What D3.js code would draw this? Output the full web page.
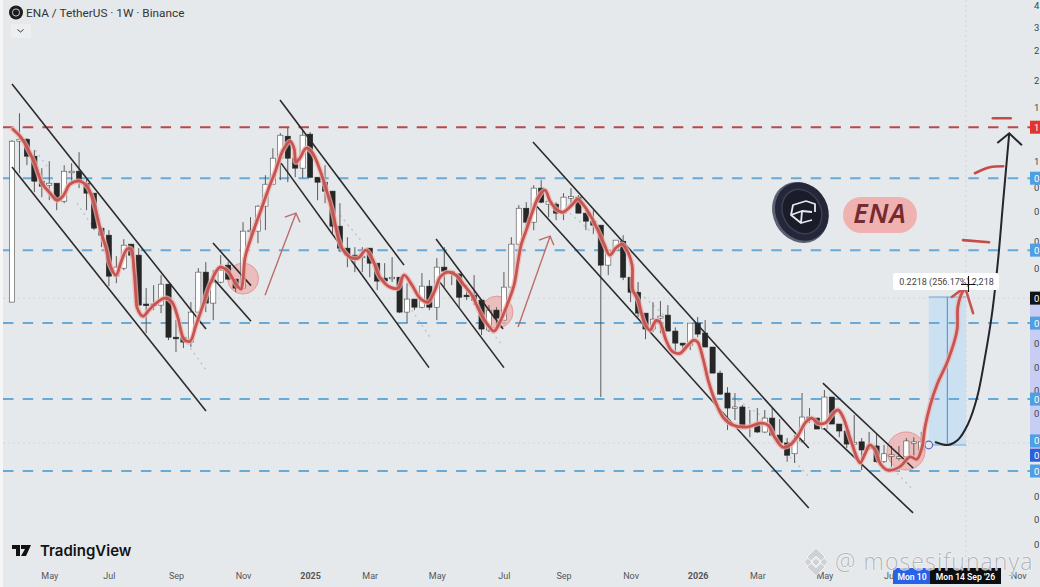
<!DOCTYPE html>
<html>
<head>
<meta charset="utf-8">
<title>ENA / TetherUS</title>
<script src="https://cdnjs.cloudflare.com/ajax/libs/d3/7.8.5/d3.min.js"></script>
<style>
  html, body { margin: 0; padding: 0; background: #e6e9ec; overflow: hidden; }
  svg { display: block; }
  text { font-family: Roboto, "Open Sans", sans-serif; }
</style>
</head>
<body>
<svg id="svgcanvas" width="1040" height="587"></svg>
<script>

/****************************************************************************
 *  data
 ****************************************************************************/
var firstWeek = new Date(2024, 3, 1);

var opens = [.2110,.8348,.8490,.7344,.5932,.5732,.5830,.5000,.6400,.6460,
  .5830,.5355,.3970,.3739,.2634,.2820,.3463,.3152,.2075,.2075,
  .2056,.2460,.1563,.1563,.1499,.1937,.2726,.2092,.2503,.2894,
  .2568,.2378,.3885,.3870,.4790,.5780,.7220,.8710,.7220,.6630,
  .8865,.6135,.5880,.5447,.4037,.3346,.3152,.3098,.3346,.2943,
  .2590,.2590,.2610,.1937,.2165,.2020,.2418,.2020,.2845,.2748,
  .2681,.2239,.2239,.2146,.1661,.1970,.1809,.2398,.3463,.4707,
  .4178,.5590,.4873,.4873,.4513,.5155,.5175,.4513,.4215,.4073,
  .2894,.3290,.3550,.2610,.2296,.1920,.1676,.1840,.1888,.1647,
  .1486,.1461,.1763,.1619,.1437,.1150,.0970,.0853,.0861,.0725,
  .0738,.0695,.0783,.0677,.0633,.0577,.0644,.0790,.0783,.0713,
  .0937,.0744,.0701,.0628,.0639,.0606,.0617,.0539,.0568,.0558,
  .0562,.0636,.0596];
var closes = [.8348,.8490,.7344,.5932,.5684,.5830,.5043,.6460,.6460,.5932,
  .5355,.3970,.3739,.2634,.2845,.3433,.3152,.2056,.2056,.2056,
  .2460,.1563,.1550,.1499,.1937,.2726,.2092,.2503,.2773,.2568,
  .2378,.3870,.3903,.4790,.5780,.7220,.8787,.7220,.6630,.8787,
  .6135,.5880,.5447,.4037,.3346,.3152,.3098,.3125,.2943,.2525,
  .2525,.2610,.1937,.2165,.2020,.2418,.2020,.2845,.2748,.2705,
  .2200,.2220,.2146,.1676,.1970,.1840,.2398,.3463,.4707,.4178,
  .5590,.4957,.5000,.4513,.5175,.5197,.4513,.4215,.4073,.2894,
  .3290,.3583,.2610,.2296,.1920,.1676,.1824,.1872,.1647,.1486,
  .1461,.1763,.1605,.1437,.1150,.0961,.0853,.0861,.0725,.0731,
  .0695,.0783,.0677,.0633,.0570,.0644,.0790,.0776,.0713,.0937,
  .0744,.0701,.0627,.0635,.0596,.0611,.0539,.0577,.0572,.0562,
  .0644,.0639,.0639];
var highs = [.8419,1.060,.8565,.7730,.6630,.7035,.5830,.6800,.6917,.7600,
  .6085,.5355,.4005,.3903,.3125,.3613,.3463,.3346,.2378,.2439,
  .2657,.2460,.1809,.1563,.2110,.2820,.2970,.2773,.3152,.2970,
  .2568,.4178,.4360,.4832,.6243,.7860,.8945,.9410,.7300,.9170,
  .9020,.6135,.6800,.5447,.4913,.3675,.3375,.3375,.3346,.2943,
  .2943,.3098,.2610,.2480,.2165,.2705,.2546,.3072,.3375,.2748,
  .2705,.2439,.2657,.2146,.2056,.2020,.2726,.3675,.4832,.4957,
  .5732,.5983,.5355,.4957,.5355,.5590,.5263,.4630,.4630,.4073,
  .3290,.3583,.3739,.2610,.2503,.1920,.2110,.2128,.2056,.1700,
  .1486,.1763,.1857,.1809,.1437,.1175,.1020,.0970,.0875,.0839,
  .0853,.0839,.0853,.0776,.0660,.0677,.0970,.0853,.0783,.0995,
  .0937,.0744,.0738,.0804,.0660,.0695,.0689,.0622,.0617,.0617,
  .0660,.0665,.0695];
var lows = [.2110,.6350,.6800,.5400,.5175,.5043,.4630,.4913,.5830,.5590,
  .4630,.3903,.3375,.2418,.2480,.2773,.3072,.2040,.1619,.1970,
  .1920,.1525,.1376,.1424,.1437,.1937,.1937,.1809,.2480,.2546,
  .2296,.2378,.3490,.3490,.3903,.5780,.5983,.5880,.6135,.6085,
  .6085,.5043,.4913,.3800,.3235,.2845,.2726,.2726,.2610,.2337,
  .2480,.2503,.1920,.1763,.1970,.2000,.1970,.1809,.2398,.2439,
  .2020,.2146,.2056,.1591,.1633,.1700,.1809,.2398,.3463,.3903,
  .3903,.4913,.4360,.4251,.4251,.4832,.4513,.3903,.3800,.0937,
  .2657,.3290,.2546,.2110,.1857,.1537,.1633,.1619,.1647,.1366,
  .1400,.1400,.1563,.1437,.1150,.0953,.0707,.0770,.0713,.0665,
  .0689,.0689,.0671,.0622,.0539,.0534,.0633,.0750,.0713,.0707,
  .0744,.0665,.0606,.0562,.0502,.0596,.0534,.0534,.0516,.0545,
  .0556,.0562,.0581];

// horizontal levels
var blueLevels = [.6085, .3290, .1763, .0921, .0498];
var redLevel = .9410;
var dottedLevels = [.2183, .0633];

// hand drawn red line: week number since firstWeek, price
var redWeeks = [.13,1.07,2.01,3.09,4.03,5.10,6.04,6.84,7.78,8.99,10.06,11.0,11.81,12.61,13.15,13.95,14.63,15.43,15.97,16.37,16.64,16.77,
  17.58,18.38,19.19,20.53,21.47,22.27,23.08,23.88,24.69,25.63,26.57,27.91,28.98,30.05,30.73,30.99,31.26,32.2,33.54,34.35,35.29,36.36,
  37.3,37.84,38.1,38.64,39.45,40.25,41.33,42.27,43.07,43.74,44.28,45.35,46.42,47.5,48.3,49.37,50.72,51.79,52.6,53.67,54.74,55.82,
  56.76,57.43,58.5,59.57,60.65,61.72,62.79,63.87,64.67,65.48,66.42,67.36,67.89,68.3,69.1,69.9,70.7,71.5,72.2,73.0,73.9,75.1,75.9,76.7,
  77.8,78.6,79.4,80.2,81.0,81.85,82.5,83.2,83.3,84.0,84.8,85.6,86.4,86.9,87.75,88.55,89.6,90.7,91.5,92.0,92.7,93.4,94.3,95.4,96.7,98.6,
  100.4,101.4,102.4,103.4,104.4,105.5,106.4,107.3,108.1,109.1,110.0,110.8,111.5,112.4,113.4,113.8,114.5,115.1,115.8,116.5,117.5,119.1,
  120.5,121.4,122.1,122.5,123.2,124.2,125.6,126.8,126.9,127.5,128.0];
var redPrices = [.925,.871,.793,.686,.583,.536,.504,.522,.578,.593,.568,.4913,.397,.3346,.2894,.2657,.297,.332,.332,.2773,.2183,.202,
  .187,.197,.2075,.2183,.211,.184,.1537,.151,.1733,.2056,.246,.2845,.2748,.246,.2357,.2546,.3072,.3739,.475,.5493,.64,.773,
  .8348,.786,.697,.722,.786,.76,.6516,.54,.4513,.3675,.3346,.3098,.3072,.329,.3072,.261,.2398,.2378,.2657,.2439,.2183,.211,
  .2337,.261,.2726,.2657,.2439,.2239,.1937,.1733,.1647,.1782,.2056,.2439,.297,.3433,.397,.463,.522,.5493,.5,.4673,.4553,.4832,.5085,.4832,
  .4325,.3903,.349,.3152,.3346,.3463,.329,.2894,.2337,.2146,.1782,.1661,.18,.1782,.1525,.1388,.136,.1461,.1525,.1499,.1308,.1084,.0913,.079,.0738,.0725,
  .075,.0738,.066,.0611,.0622,.0677,.075,.0783,.075,.075,.0804,.0839,.079,.0665,.0556,.0534,.0581,.0622,.0596,.053,.0502,.0516,
  .0562,.0551,.0611,.0725,.0875,.1056,.1286,.1661,.202,.2296,.2378];
var redHeadWeeks = [126.1, 127.87, 128.95];
var redHeadPrices = [.2204, .2398, .192];

// short red strokes near the right edge
var targetWeeks = [[131.6, 134.0], [129.2, 131.2, 133.0], [127.6, 131.1]];
var targetPrices = [[1.016, 1.016], [.635, .668, .674], [.3583, .352]];

// black projection curve
var curveWeeks = [123.84, 125.6, 126.9, 128.27, 129.5, 130.55, 131.5, 132.3, 133.0, 133.8];
var curvePrices = [.0638, .0622, .0649, .0744, .0937, .1318, .192, .302, .5043, .8935];
var curveHeadWeeks = [132.2, 133.8, 135.5];
var curveHeadPrices = [.822, .8935, .8067];

// channel lines
var channelWeeks = [[0, 26.03], [0, 26.03], [26.97, 32.07], [26.97, 32.07], [35.96, 52.6], [36.1, 55.95],
  [56.9, 65.88], [57.4, 66.0], [69.9, 106.9], [70.4, 106.9], [108.8, 120.9], [108.9, 120.9]];
var channelPrices = [[1.36, .1676], [.669, .0832], [.3496, .2429], [.259, .179], [1.187, .2894], [.692, .1205],
  [.3617, .1676], [.2503, .1205], [.829, .0606], [.479, .0363], [.1056, .0511], [.0719, .0348]];

// faint dotted diagonals
var dottedWeeks = [[3.1, 5.1], [8.72, 10.87], [23.48, 26.03], [44.0, 47.1], [52.73, 56.08], [64.4, 65.75],
  [74.87, 78.5], [84.26, 87.9], [96.74, 102.4], [104.4, 107.07], [118.75, 120.9]];
var dottedPrices = [[.773, .6516], [.4913, .4005], [.1486, .1181], [.4436, .3496], [.2146, .1563], [.1633, .1461],
  [.4513, .3675], [.228, .184], [.0937, .0738], [.0562, .0471], [.0488, .0424]];

// small red arrows
var arrowWeeks = [[33.95, 38.1], [67.9, 72.2]];
var arrowPrices = [[.2239, .4513], [.1705, .3706]];
var arrowHeadWeeks = [[36.6, 38.1, 38.64], [70.7, 72.2, 72.7]];
var arrowHeadPrices = [[.436, .4513, .4178], [.3583, .3706, .3433]];

// pink circles
var circleWeeks = [31, 65.07, 119.95];
var circlePrices = [.258, .1937, .0591];
var circleSizes = [15.5, 16, 19];

// measure tool
var measureWeeks = [123, 128];
var measurePrices = [.0622, .2204];
var measureText = "0.2218 (256.17%) 2,218";

// price axis, only the first character shows in the picture
var axisPrices = [2.66, 2.215, 1.819, 1.406, 1.118, .702, .5635, .4595, .355, .282, .1486, .1205, .0995, .0816, .0399, .0328, .0265];
var axisLabels = ["4", "3", "2", "2", "1", "1", "0", "0", "0", "0", "0", "0", "0", "0", "0", "0", "0"];
var badgePrices = [.6085, .329, .1763, .0921, .0644, .0498];
var badgeLabels = ["0", "0", "0", "0", "0", "0"];

// time axis
var timeDates = [new Date(2024, 4, 6), new Date(2024, 6, 1), new Date(2024, 8, 2), new Date(2024, 10, 4), new Date(2025, 0, 6),
  new Date(2025, 2, 3), new Date(2025, 4, 5), new Date(2025, 6, 7), new Date(2025, 8, 1), new Date(2025, 10, 3),
  new Date(2026, 0, 5), new Date(2026, 2, 2), new Date(2026, 4, 4), new Date(2026, 6, 6), new Date(2026, 10, 2)];
var timeLabels = ["May", "Jul", "Sep", "Nov", "2025", "Mar", "May", "Jul", "Sep", "Nov", "2026", "Mar", "May", "Ju", "Nov"];


/****************************************************************************
 *  scales
 ****************************************************************************/
var MS_PER_WEEK = 7 * 24 * 3600 * 1000;
var x = d3.scaleTime().domain([firstWeek, new Date(2026, 8, 14)]).range([12, 966]);
var y = d3.scaleLog().domain([.0622, .2204]).range([445, 297]);

function xw(w) { return x(new Date(+firstWeek + w * MS_PER_WEEK)); }

var COL_BLUE = "#68a9d6", COL_RED = "#b8484a", COL_INK = "#262626", COL_LINE = "#c65552";
var svg = d3.select("#svgcanvas");

function pairs(ws, ps) { return ws.map(function(w, i) { return [xw(w), y(ps[i])]; }); }
var straight = d3.line();


/****************************************************************************
 *  background and levels
 ****************************************************************************/
svg.append("rect").attr("width", 1040).attr("height", 587).attr("fill", "#e6e9ec");
svg.append("rect").attr("width", 3).attr("height", 587).attr("fill", "#f6f6f6");

var levels = svg.append("g").attr("id", "g_levels");

// measure rectangle goes under everything
var mx0 = xw(measureWeeks[0]), mx1 = xw(measureWeeks[1]);
var my0 = y(measurePrices[1]), my1 = y(measurePrices[0]);
levels.append("rect").attr("x", mx0).attr("y", my0).attr("width", mx1 - mx0).attr("height", my1 - my0)
  .attr("fill", "#c5dff3").attr("fill-opacity", 0.85);

levels.selectAll("line.dot").data(dottedLevels).enter().append("line")
  .attr("x1", 3).attr("x2", 1030)
  .attr("y1", function(d) { return y(d); }).attr("y2", function(d) { return y(d); })
  .attr("stroke", "#d3d6d9").attr("stroke-width", 1).attr("stroke-dasharray", "2 3");

levels.selectAll("line.blue").data(blueLevels).enter().append("line")
  .attr("x1", 3).attr("x2", 1030)
  .attr("y1", function(d) { return y(d); }).attr("y2", function(d) { return y(d); })
  .attr("stroke", COL_BLUE).attr("stroke-width", 2).attr("stroke-dasharray", "10.5 9.2");

levels.append("line").attr("x1", 3).attr("x2", 1030).attr("y1", y(redLevel)).attr("y2", y(redLevel))
  .attr("stroke", COL_RED).attr("stroke-width", 2).attr("stroke-dasharray", "10.5 9.2");

// crosshair
levels.append("line").attr("x1", x(new Date(2026, 8, 14))).attr("x2", x(new Date(2026, 8, 14))).attr("y1", 0).attr("y2", 568)
  .attr("stroke", "#cfd2d6").attr("stroke-width", 1).attr("stroke-dasharray", "2 3");

// faint dotted diagonals
levels.selectAll("path.dd").data(dottedWeeks).enter().append("path")
  .attr("d", function(d, i) { return straight(pairs(d, dottedPrices[i])); })
  .attr("fill", "none").attr("stroke", "#bfc3c7").attr("stroke-width", 1.4).attr("stroke-dasharray", "2 4");

// circles sit under the candles
levels.selectAll("circle").data(circleWeeks).enter().append("circle")
  .attr("cx", function(d) { return xw(d); })
  .attr("cy", function(d, i) { return y(circlePrices[i]); })
  .attr("r", function(d, i) { return circleSizes[i]; })
  .attr("fill", "#eda9a9").attr("fill-opacity", 0.7).attr("stroke", "#e29a9a").attr("stroke-width", 1);


/****************************************************************************
 *  candles
 ****************************************************************************/
var candles = svg.append("g").attr("id", "g_candles");

candles.selectAll("line").data(opens).enter().append("line")
  .attr("x1", function(d, i) { return xw(i); })
  .attr("x2", function(d, i) { return xw(i); })
  .attr("y1", function(d, i) { return y(highs[i]); })
  .attr("y2", function(d, i) { return y(lows[i]); })
  .attr("stroke", "#5a5a5a").attr("stroke-width", 1);

candles.selectAll("rect").data(opens).enter().append("rect")
  .attr("x", function(d, i) { return xw(i) - 2.6; })
  .attr("width", 5.2)
  .attr("y", function(d, i) { return y(Math.max(d, closes[i])); })
  .attr("height", function(d, i) { return Math.max(1.6, Math.abs(y(d) - y(closes[i]))); })
  .attr("fill", function(d, i) { return closes[i] >= d ? "#ffffff" : COL_INK; })
  .attr("stroke", function(d, i) { return closes[i] >= d ? "#4a4a4a" : COL_INK; })
  .attr("stroke-width", 0.6);


/****************************************************************************
 *  drawings on top
 ****************************************************************************/
var drawings = svg.append("g").attr("id", "g_drawings");

drawings.selectAll("path.channel").data(channelWeeks).enter().append("path")
  .attr("d", function(d, i) { return straight(pairs(d, channelPrices[i])); })
  .attr("fill", "none").attr("stroke", "#2b2b2b").attr("stroke-width", 1.6);

// measure tool lines
drawings.append("path")
  .attr("d", straight([[mx0, my1], [mx1, my1]]))
  .attr("stroke", "#6aa5d8").attr("stroke-width", 1).attr("fill", "none");
drawings.append("path")
  .attr("d", straight([[mx0, my0], [mx1, my0]]))
  .attr("stroke", "#6aa5d8").attr("stroke-width", 1).attr("fill", "none");
drawings.append("line").attr("x1", (mx0 + mx1) / 2).attr("x2", (mx0 + mx1) / 2).attr("y1", my0).attr("y2", my1)
  .attr("stroke", "#5b9bd5").attr("stroke-width", 1.2);

// black projection
var smooth = d3.line().curve(d3.curveCatmullRom.alpha(0.5));
drawings.append("path").attr("d", smooth(pairs(curveWeeks, curvePrices)))
  .attr("fill", "none").attr("stroke", "#23262b").attr("stroke-width", 2);
drawings.append("path").attr("d", straight(pairs(curveHeadWeeks, curveHeadPrices)))
  .attr("fill", "none").attr("stroke", "#23262b").attr("stroke-width", 2);

// anchor handle
drawings.append("circle").attr("cx", xw(123)).attr("cy", y(.0622)).attr("r", 3.8)
  .attr("fill", "#e6e9ec").attr("stroke", "#5566c4").attr("stroke-width", 1.2);

// red line: pale halo, then core
var redPts = pairs(redWeeks, redPrices);
drawings.append("path").attr("d", smooth(redPts))
  .attr("fill", "none").attr("stroke", "#efb4b0").attr("stroke-width", 5.5).attr("stroke-opacity", 0.75)
  .attr("stroke-linejoin", "round").attr("stroke-linecap", "round");
drawings.append("path").attr("d", smooth(redPts))
  .attr("fill", "none").attr("stroke", COL_LINE).attr("stroke-width", 2.8)
  .attr("stroke-linejoin", "round").attr("stroke-linecap", "round");
drawings.append("path").attr("d", straight(pairs(redHeadWeeks, redHeadPrices)))
  .attr("fill", "none").attr("stroke", COL_LINE).attr("stroke-width", 2.6).attr("stroke-linecap", "round");

// short target strokes
drawings.selectAll("path.target").data(targetWeeks).enter().append("path")
  .attr("d", function(d, i) { return smooth(pairs(d, targetPrices[i])); })
  .attr("fill", "none").attr("stroke", "#c64a48").attr("stroke-width", 2.6).attr("stroke-linecap", "round");

// thin red arrows
drawings.selectAll("path.arrow").data(arrowWeeks).enter().append("path")
  .attr("d", function(d, i) { return straight(pairs(d, arrowPrices[i])); })
  .attr("fill", "none").attr("stroke", "#bd6d6b").attr("stroke-width", 1.4);
drawings.selectAll("path.arrowhead").data(arrowHeadWeeks).enter().append("path")
  .attr("d", function(d, i) { return straight(pairs(d, arrowHeadPrices[i])); })
  .attr("fill", "none").attr("stroke", "#bd6d6b").attr("stroke-width", 1.4);

// tooltip of the measure tool
var tip = svg.append("g").attr("id", "g_tip");
tip.append("rect").attr("x", 893).attr("y", 273).attr("width", 106).attr("height", 17).attr("rx", 2.5).attr("fill", "#ffffff");
tip.append("text").attr("x", 946.5).attr("y", 285).attr("text-anchor", "middle").attr("font-size", 9)
  .attr("fill", "#444").text(measureText);
tip.append("path").attr("d", "M961,284.5H975M968.5,276V292").attr("stroke", "#111").attr("stroke-width", 1.1).attr("fill", "none");


/****************************************************************************
 *  coin and pill
 ****************************************************************************/
var coin = svg.append("g").attr("transform", "translate(801,212) rotate(-28)");
coin.append("ellipse").attr("cx", -1).attr("rx", 27).attr("ry", 31.5).attr("fill", "#5b6172");
coin.append("ellipse").attr("cx", 1).attr("rx", 26).attr("ry", 30).attr("fill", "#242739");
coin.append("ellipse").attr("cx", 1).attr("rx", 19).attr("ry", 23).attr("fill", "#1a1c29").attr("stroke", "#3b3f50").attr("stroke-width", 1.5);
svg.append("path").attr("d", "M806,201L793,205L791,215L801,223L812,220M806,201L815,204L815,212M791,215L802,211L801,223M802,211L812,212")
  .attr("fill", "none").attr("stroke", "#e8e9ee").attr("stroke-width", 1.8).attr("stroke-linejoin", "round");

svg.append("rect").attr("x", 843).attr("y", 197).attr("width", 74).attr("height", 36).attr("rx", 18).attr("fill", "#efb2b1");
svg.append("text").attr("x", 880).attr("y", 222.5).attr("text-anchor", "middle")
  .attr("font-size", 27).attr("font-style", "italic").attr("font-weight", 600).attr("letter-spacing", 1)
  .style("font-family", "'Noto Sans', sans-serif").attr("fill", "#752b30").text("ENA");


/****************************************************************************
 *  price axis
 ****************************************************************************/
svg.append("rect").attr("x", 1030).attr("y", y(.2204) + 7).attr("width", 10).attr("height", y(.057) - y(.2204) - 7).attr("fill", "#c8cdf4");

var yAxis = d3.axisRight(y).tickValues(axisPrices).tickSize(0).tickPadding(0)
  .tickFormat(function(d, i) { return axisLabels[i]; });
var yAxisG = svg.append("g").attr("transform", "translate(1034,0)").call(yAxis);
yAxisG.select(".domain").remove();
yAxisG.selectAll("text").attr("x", 0).attr("font-size", 9.5).attr("fill", "#444").style("font-family", "Roboto, sans-serif");

function badge(price, color, label) {
  svg.append("rect").attr("x", 1030).attr("y", y(price) - 6.5).attr("width", 10).attr("height", 13).attr("fill", color);
  svg.append("text").attr("x", 1034).attr("y", y(price) + 3.5).attr("font-size", 9.5).attr("fill", "#fff").text(label);
}
badgePrices.forEach(function(d, i) { badge(d, "#4f9fe2", badgeLabels[i]); });
badge(.057, "#2d5fd8", "0");
badge(redLevel, "#e0342c", "1");
badge(.2183, "#111317", "0");


/****************************************************************************
 *  time axis
 ****************************************************************************/
var xAxis = d3.axisBottom(x).tickValues(timeDates).tickSize(0).tickPadding(0)
  .tickFormat(function(d, i) { return timeLabels[i]; });
var xAxisG = svg.append("g").attr("transform", "translate(0,573)").call(xAxis);
xAxisG.select(".domain").remove();
xAxisG.selectAll("text").attr("font-size", 9).attr("fill", "#555").style("font-family", "Roboto, sans-serif")
  .attr("font-weight", function(d, i) { return timeLabels[i].length === 4 ? 700 : 400; })
  .attr("dx", function(d, i) { return timeLabels[i] === "Ju" ? -3 : 0; });

svg.append("rect").attr("x", 893).attr("y", 568).attr("width", 38).attr("height", 16).attr("fill", "#2962e8");
svg.append("text").attr("x", 912).attr("y", 579.5).attr("text-anchor", "middle").attr("font-size", 8.6).attr("font-weight", 600)
  .attr("fill", "#fff").text("Mon 10");
svg.append("rect").attr("x", 930).attr("y", 568).attr("width", 71).attr("height", 16).attr("fill", "#0d0e12");
svg.append("text").attr("x", 965.5).attr("y", 579.5).attr("text-anchor", "middle").attr("font-size", 8.6).attr("font-weight", 600)
  .attr("fill", "#fff").text("Mon 14 Sep '26");


/****************************************************************************
 *  header, logo, watermark
 ****************************************************************************/
svg.append("circle").attr("cx", 16).attr("cy", 12.5).attr("r", 7).attr("fill", "#1c1c1e");
svg.append("circle").attr("cx", 16).attr("cy", 12.5).attr("r", 3.6).attr("fill", "none").attr("stroke", "#c9c9c9").attr("stroke-width", 1);
svg.append("text").attr("x", 26).attr("y", 17).attr("font-size", 11.8).attr("fill", "#333")
  .text("ENA / TetherUS \u00b7 1W \u00b7 Binance");

svg.append("rect").attr("x", 11).attr("y", 24).attr("width", 20).attr("height", 14).attr("fill", "#eceef0");
svg.append("path").attr("d", "M17.5,29.5L20.5,32L23.5,29.5").attr("fill", "none").attr("stroke", "#333").attr("stroke-width", 1);

svg.append("path").attr("d", "M12,545H20V556H16V549H12ZM21,545H31L26,556H21L25,549H21Z").attr("fill", "#111");
svg.append("text").attr("x", 40).attr("y", 556).attr("font-size", 15).attr("font-weight", 600)
  .style("font-family", "Inter, sans-serif").attr("fill", "#131313").text("TradingView");

var mark = svg.append("g").attr("id", "g_watermark");
mark.append("path").attr("d", "M816,548L825,557L821,561L816,556L811,561L807,557ZM804,562L808,558L812,562L808,566ZM820,562L824,558L828,562L824,566ZM816,558L820,562L816,566L812,562ZM811,563L816,568L821,563L825,567L816,576L807,567Z")
  .attr("fill", "#cfd1d5").attr("stroke", "#f6f6f6").attr("stroke-width", 0.8);
mark.append("text").attr("x", 835).attr("y", 570).attr("font-size", 23).attr("font-weight", 300)
  .attr("letter-spacing", 1.1).attr("fill", "#a8abb0").attr("fill-opacity", 0.9)
  .attr("stroke", "#f7f7f7").attr("stroke-width", 0.9).attr("paint-order", "stroke")
  .style("font-family", "'Open Sans', sans-serif").text("@ mosesifunanya");

</script>
</body>
</html>
